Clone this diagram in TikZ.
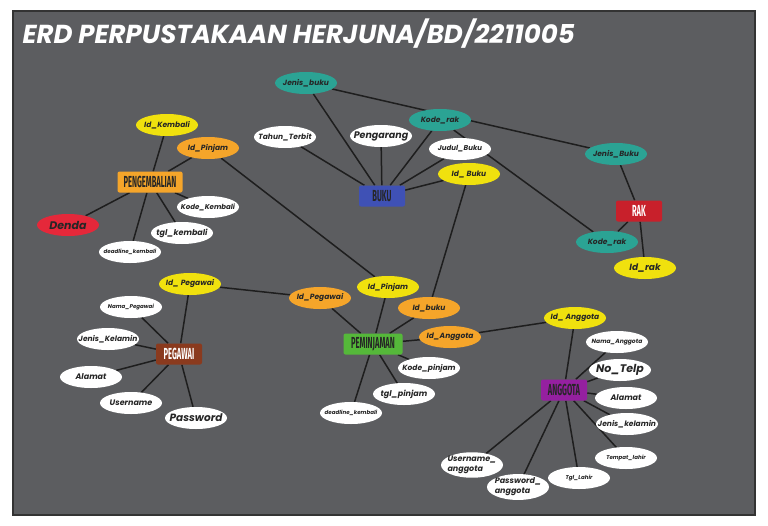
\documentclass[tikz,border=0pt]{standalone}
\usepackage{fontspec}
\usepackage{tikz}
\usetikzlibrary{shapes,backgrounds}
\newfontfamily\popfont{Poppins}
\newfontfamily\entfont{Fira Sans}[FakeStretch=0.47]
\newbox\attrbox
\definecolor{bggrey}{HTML}{5C5D60}
\definecolor{yel}{HTML}{F0E10E}
\definecolor{orng}{HTML}{F5A52A}
\definecolor{tealc}{HTML}{2BA394}
\definecolor{dred}{HTML}{E5283A}
\definecolor{rakred}{HTML}{C8202B}
\definecolor{bblue}{HTML}{3F51B5}
\definecolor{pbrown}{HTML}{8A3A1E}
\definecolor{pgreen}{HTML}{55B83A}
\definecolor{purp}{HTML}{9520A0}
\definecolor{linecol}{HTML}{1E1E1E}
\definecolor{txtcol}{HTML}{262626}
\tikzstyle{line} = [draw=linecol, line width=1.5pt]
\tikzstyle{attr} = [ellipse, fill=white, minimum width=62pt, minimum height=22pt, inner sep=0pt, text=txtcol,
    font=\popfont\bfseries\itshape\fontsize{7.5}{9}\selectfont,
    execute at begin node={\setbox\attrbox=\hbox\bgroup},
    execute at end node={\egroup\makebox[0pt]{\box\attrbox}}]
\tikzstyle{small attr} = [attr, font=\popfont\bfseries\itshape\fontsize{5.5}{7}\selectfont]
\tikzstyle{big attr} = [attr, font=\popfont\bfseries\itshape\fontsize{10.5}{12}\selectfont]
\tikzstyle{entity} = [rectangle, rounded corners=2pt, minimum width=46pt, minimum height=21pt, inner sep=1pt, text=txtcol, font=\entfont\bfseries\fontsize{16}{16}\selectfont]

\begin{document}
\begin{tikzpicture}[x=1pt, y=-1pt]
    \useasboundingbox (0,0) rectangle (768,525);
    \begin{pgfonlayer}{background}
        \draw[fill=bggrey, draw=black!80, line width=1.2pt] (13,11) rectangle (755,515);
    \end{pgfonlayer}
    \node[anchor=base west, text=white, font=\popfont\bfseries\itshape\fontsize{26}{26}\selectfont] (title) at (19,43) {ERD PERPUSTAKAAN HERJUNA/BD/2211005};

    % pengembalian
    \node[entity, fill=orng, minimum width=65pt] (pengembalian) at (150,182) {PENGEMBALIAN};
    \node[attr, fill=yel] (idkembali) at (167,125) {Id\_Kembali};
    \node[attr, fill=orng] (idpinjamk) at (208,148) {Id\_Pinjam};
    \node[attr, font=\popfont\bfseries\itshape\fontsize{7}{8}\selectfont] (kodekembali) at (208,207) {Kode\_Kembali};
    \node[big attr, fill=dred, font=\popfont\bfseries\itshape\fontsize{11}{12}\selectfont] (denda) at (68,225) {Denda};
    \node[attr, font=\popfont\bfseries\itshape\fontsize{8}{9}\selectfont] (tglkembali) at (182,233) {tgl\_kembali};
    \node[small attr] (deadlinek) at (130,252) {deadline\_kembali};

    % buku
    \node[entity, fill=bblue] (buku) at (382,196) {BUKU};
    \node[attr, fill=tealc] (jenisbuku) at (306,83) {Jenis\_buku};
    \node[attr, fill=tealc] (koderak) at (440,120) {Kode\_rak};
    \node[attr] (tahun) at (285,137) {Tahun\_Terbit};
    \node[big attr, font=\popfont\bfseries\itshape\fontsize{9.5}{11}\selectfont] (pengarang) at (381,136) {Pengarang};
    \node[attr, font=\popfont\bfseries\itshape\fontsize{7}{8}\selectfont] (judul) at (460,149) {Judul\_Buku};
    \node[attr, fill=yel] (idbuku) at (469,174) {Id\_ Buku};

    % rak
    \node[entity, fill=rakred, text=white] (rak) at (639,211) {RAK};
    \node[attr, fill=tealc] (jenisbukur) at (616,154) {Jenis\_Buku};
    \node[attr, fill=tealc] (koderakr) at (607,242) {Kode\_rak};
    \node[attr, fill=yel, font=\popfont\bfseries\itshape\fontsize{9}{10}\selectfont] (idrak) at (645,268) {Id\_rak};

    % pegawai
    \node[entity, fill=pbrown, text=white] (pegawai) at (179,354) {PEGAWAI};
    \node[attr, fill=yel] (idpegawai) at (190,284) {Id\_ Pegawai};
    \node[small attr] (namapeg) at (131,307) {Nama\_Pegawai};
    \node[attr] (jkpeg) at (108,339) {Jenis\_Kelamin};
    \node[attr, font=\popfont\bfseries\itshape\fontsize{8}{9}\selectfont] (alamatpeg) at (91,377) {Alamat};
    \node[attr, font=\popfont\bfseries\itshape\fontsize{8}{9}\selectfont] (userpeg) at (131,403) {Username};
    \node[big attr] (passpeg) at (196,418) {Password};

    % peminjaman
    \node[entity, fill=pgreen, minimum width=59pt] (peminjaman) at (373,344) {PEMINJAMAN};
    \node[attr, fill=yel] (idpinjam) at (388,287) {Id\_Pinjam};
    \node[attr, fill=orng] (idpegawaif) at (320,298) {Id\_Pegawai};
    \node[attr, fill=orng] (idbukuf) at (429,308) {Id\_buku};
    \node[attr, fill=orng] (idanggotaf) at (450,337) {Id\_Anggota};
    \node[attr] (kodepinjam) at (429,368) {Kode\_pinjam};
    \node[attr, font=\popfont\bfseries\itshape\fontsize{8}{9}\selectfont] (tglpinjam) at (404,394) {tgl\_pinjam};
    \node[small attr] (deadlinep) at (351,413) {deadline\_kembali};

    % anggota
    \node[entity, fill=purp] (anggota) at (564,390) {ANGGOTA};
    \node[attr, fill=yel] (idanggota) at (575,318) {Id\_ Anggota};
    \node[small attr, font=\popfont\bfseries\itshape\fontsize{6}{7}\selectfont] (namaang) at (617,342) {Nama\_Anggota};
    \node[big attr, font=\popfont\bfseries\itshape\fontsize{11}{12}\selectfont] (notelp) at (620,370) {No\_Telp};
    \node[attr, font=\popfont\bfseries\itshape\fontsize{8}{9}\selectfont] (alamatang) at (626,398) {Alamat};
    \node[attr] (jkang) at (627,424) {Jenis\_kelamin};
    \node[small attr] (tempat) at (626,458) {Tempat\_lahir};
    \node[small attr] (tgllahir) at (579,478) {Tgl\_Lahir};
    \node[attr, minimum height=24pt, font=\popfont\bfseries\itshape\fontsize{8}{9}\selectfont] (userang) at (472,465) {\shortstack[l]{Username\_\\anggota}};
    \node[attr, font=\popfont\bfseries\itshape\fontsize{8}{9}\selectfont] (passang) at (518,487) {\shortstack[l]{Password\_\\anggota}};

    \begin{pgfonlayer}{background}
        \foreach \a in {idkembali,idpinjamk,kodekembali,denda,tglkembali,deadlinek}
            \path[line] (pengembalian) -- (\a);
        \foreach \a in {jenisbuku,tahun,pengarang,koderak,judul,idbuku}
            \path[line] (buku) -- (\a);
        \foreach \a in {jenisbukur,koderakr,idrak}
            \path[line] (rak) -- (\a);
        \foreach \a in {idpegawai,namapeg,jkpeg,alamatpeg,userpeg,passpeg}
            \path[line] (pegawai) -- (\a);
        \foreach \a in {idpinjam,idpegawaif,idbukuf,idanggotaf,kodepinjam,tglpinjam,deadlinep}
            \path[line] (peminjaman) -- (\a);
        \foreach \a in {idanggota,namaang,notelp,alamatang,jkang,tempat,tgllahir,userang,passang}
            \path[line] (anggota) -- (\a);
        \path[line] (idpinjamk) -- (idpinjam);
        \path[line] (jenisbuku) -- (jenisbukur);
        \path[line] (koderak) -- (koderakr);
        \path[line] (idbuku) -- (idbukuf);
        \path[line] (idpegawai) -- (idpegawaif);
        \path[line] (idanggotaf) -- (idanggota);
    \end{pgfonlayer}
\end{tikzpicture}
\end{document}
